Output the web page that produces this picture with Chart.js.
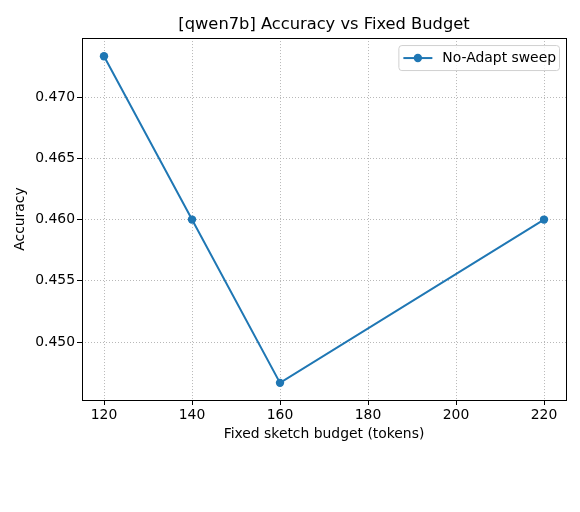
<!DOCTYPE html>
<html>
<head>
<meta charset="utf-8">
<script src="https://cdn.jsdelivr.net/npm/chart.js@4.4.0/dist/chart.umd.min.js"></script>
<style>
  html, body { margin: 0; padding: 0; background: #fff; }
  #wrap { width: 580px; height: 512px; }
</style>
</head>
<body>
<div id="wrap"><canvas id="myChart" width="580" height="512"></canvas></div>
<script>
// data
const budgets = [120, 140, 160, 220];
const accuracy = [0.47333, 0.46, 0.44667, 0.46];
const xTicks = [120, 140, 160, 180, 200, 220];
const yTicks = [0.450, 0.455, 0.460, 0.465, 0.470];
const seriesName = 'No-Adapt sweep';

const blue = '#1f77b4';
const font = "'DejaVu Sans', sans-serif";
Chart.defaults.font.family = font;
Chart.defaults.color = '#000';

// axes frame (all four sides, like matplotlib)
const framePlugin = {
    id: 'frame',
    afterDraw(chart) {
        const a = chart.chartArea;
        const c = chart.ctx;
        c.save();
        c.strokeStyle = '#000';
        c.lineWidth = 1;
        c.strokeRect(Math.round(a.left) + 0.5, Math.round(a.top) + 0.5,
            Math.round(a.right - a.left), Math.round(a.bottom - a.top));
        c.restore();
    }
};

// boxed legend in the upper right of the plot area
const legendBoxPlugin = {
    id: 'legendBox',
    afterDraw(chart) {
        const a = chart.chartArea;
        const c = chart.ctx;
        const label = chart.data.datasets[0].label;
        c.save();
        c.font = '13.9px ' + font;
        const tw = c.measureText(label).width;
        const w = tw + 47, h = 25;
        const x = a.right - 7 - w, y = a.top + 7;
        c.fillStyle = 'rgba(255,255,255,0.8)';
        c.strokeStyle = '#d0d0d0';
        c.lineWidth = 1;
        c.beginPath();
        c.roundRect(x + 0.5, y + 0.5, w, h, 3);
        c.fill();
        c.stroke();
        const cy = y + h / 2 + 0.5;
        c.strokeStyle = blue;
        c.lineWidth = 2;
        c.beginPath();
        c.moveTo(x + 5, cy);
        c.lineTo(x + 34, cy);
        c.stroke();
        c.fillStyle = blue;
        c.beginPath();
        c.arc(x + 19.5, cy, 4.2, 0, Math.PI * 2);
        c.fill();
        c.fillStyle = '#000';
        c.textBaseline = 'middle';
        c.fillText(label, x + 44, cy);
        c.restore();
    }
};

const gridOpts = {
    color: 'rgba(176,176,176,0.9)',
    lineWidth: 1,
    tickColor: '#000',
    tickLength: 5,
    tickWidth: 1,
    tickBorderDash: []
};

const ctx = document.getElementById('myChart').getContext('2d');
let myChart = new Chart(ctx, {
    type: 'line',
    data: {
        datasets: [{
            label: seriesName,
            data: budgets.map((b, i) => ({ x: b, y: accuracy[i] })),
            borderColor: blue,
            backgroundColor: blue,
            borderWidth: 2,
            pointRadius: 4.2,
            pointHoverRadius: 4.2,
            pointBorderWidth: 0,
            tension: 0
        }]
    },
    options: {
        responsive: false,
        animation: false,
        layout: { padding: { left: 0, right: 14, top: 0, bottom: 62 } },
        plugins: {
            legend: { display: false },
            tooltip: { enabled: false },
            title: {
                display: true,
                fullSize: false,
                text: '[qwen7b] Accuracy vs Fixed Budget',
                font: { size: 16.3, weight: 'normal' },
                color: '#000',
                padding: { top: 15, bottom: 3.5 }
            }
        },
        scales: {
            x: {
                type: 'linear',
                min: 115,
                max: 225,
                afterBuildTicks(axis) { axis.ticks = xTicks.map(v => ({ value: v })); },
                afterFit(axis) { axis.height = 50; },
                ticks: { font: { size: 13.9 }, color: '#000', padding: 2, maxRotation: 0 },
                grid: gridOpts,
                border: { display: false, dash: [1, 2] },
                title: {
                    display: true,
                    text: 'Fixed sketch budget (tokens)',
                    font: { size: 13.9 },
                    color: '#000',
                    padding: { top: 0, bottom: 7 }
                }
            },
            y: {
                type: 'linear',
                min: 0.44527,
                max: 0.47482,
                afterBuildTicks(axis) { axis.ticks = yTicks.map(v => ({ value: v })); },
                afterFit(axis) { axis.width = 82; },
                ticks: {
                    font: { size: 13.9 },
                    color: '#000',
                    padding: 2,
                    callback: v => v.toFixed(3)
                },
                grid: gridOpts,
                border: { display: false, dash: [1, 2] },
                title: {
                    display: true,
                    text: 'Accuracy',
                    font: { size: 13.9 },
                    color: '#000',
                    padding: { top: 12, bottom: 0 }
                }
            }
        }
    },
    plugins: [framePlugin, legendBoxPlugin]
});
</script>
</body>
</html>
